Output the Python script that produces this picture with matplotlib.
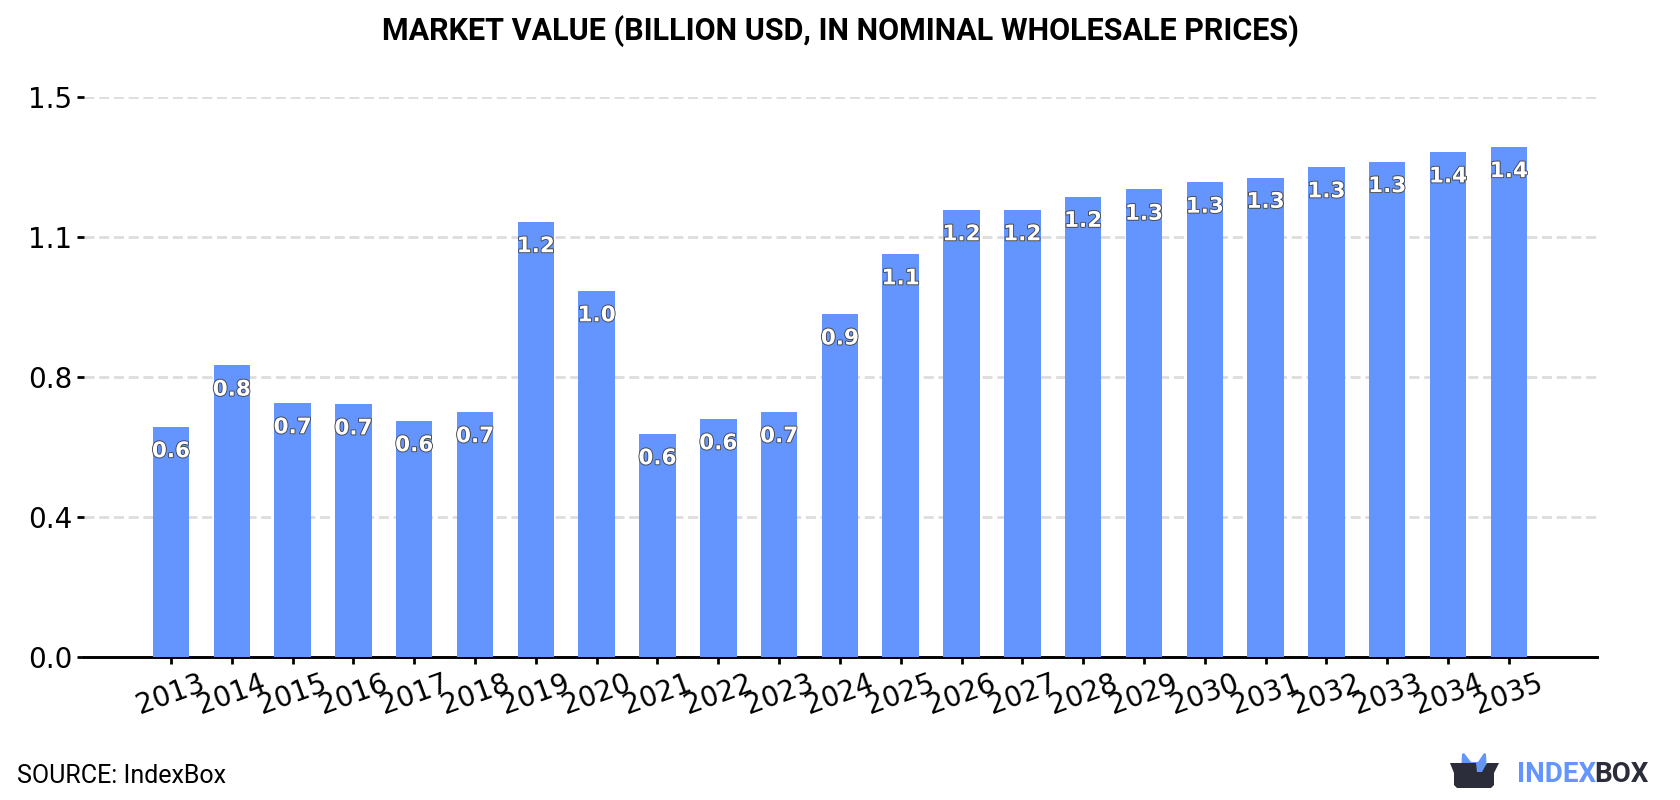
import matplotlib
matplotlib.use("Agg")
import matplotlib.pyplot as plt
import matplotlib.patheffects as pe
from matplotlib.patches import Polygon
from matplotlib.transforms import Affine2D

years = [2013, 2014, 2015, 2016, 2017, 2018, 2019, 2020, 2021, 2022, 2023, 2024,
         2025, 2026, 2027, 2028, 2029, 2030, 2031, 2032, 2033, 2034, 2035]
values = [0.615, 0.78, 0.679, 0.676, 0.631, 0.655, 1.164, 0.979, 0.596, 0.636, 0.655, 0.917,
          1.078, 1.196, 1.196, 1.232, 1.251, 1.27, 1.283, 1.311, 1.325, 1.351, 1.365]
y_ticks = [0.0, 0.375, 0.75, 1.125, 1.5]
y_tick_labels = ["0.0", "0.4", "0.8", "1.1", "1.5"]

W, H = 1680, 800
BLUE = "#6495ff"
DARK = "#2b2d3a"

fig = plt.figure(figsize=(W / 100, H / 100), dpi=100, facecolor="white")
ax = fig.add_axes([84 / W, 1 - 656.5 / H, (1597 - 84) / W, (656.5 - 96.5) / H])

positions = list(range(len(years)))
ax.bar(positions, values, width=0.6, color=BLUE, zorder=3)

ax.set_xlim(-1.43, 23.45)
ax.set_ylim(0, 1.5)
ax.set_yticks(y_ticks, y_tick_labels)
ax.set_xticks(positions, [str(y) for y in years], rotation=20, ha="center")
ax.tick_params(axis="both", labelsize=20, width=2, length=4.7, color="black")
ax.tick_params(axis="x", length=5, pad=4)

ax.grid(axis="y", color="#dddddd", linewidth=2, linestyle=(0, (3.6, 1.7)), zorder=0)
ax.set_axisbelow(True)
for side in ("top", "right", "left"):
    ax.spines[side].set_visible(False)
ax.spines["bottom"].set_linewidth(2.1)

# Value labels sit just inside the top of each bar
for x, v in zip(positions, values):
    ax.annotate(f"{v:.1f}", (x, v), xytext=(0, -17.5), textcoords="offset points",
                ha="center", va="center", fontsize=15.5, fontweight="bold",
                color="white", zorder=4, family="DejaVu Sans",
                path_effects=[pe.withStroke(linewidth=1.3, foreground="#444444")])

fig.text(840 / W, 1 - 31 / H, "MARKET VALUE (BILLION USD, IN NOMINAL WHOLESALE PRICES)",
         ha="center", va="center", fontsize=22, fontweight="bold", family="Roboto", color="black")
fig.text(17 / W, 1 - 776 / H, "SOURCE: IndexBox", ha="left", va="center",
         fontsize=18, family="Roboto", color="black")

# Brand mark, laid out in pixel coordinates from the top-left corner
px = Affine2D().scale(1, -1).translate(0, H)
ear = Polygon([(1461, 773), (1462, 754), (1464, 753), (1471, 762), (1478, 762),
               (1484, 753), (1486, 754), (1487, 773)], closed=True, fc=BLUE, ec="none",
              transform=px)
box = Polygon([(1450, 763), (1476, 763), (1476, 763), (1477, 772), (1482, 772), (1487, 763), (1499, 763),
               (1494, 773), (1494, 785), (1491, 788), (1457, 788), (1454, 785), (1454, 773)],
              closed=True, fc=DARK, ec="none", transform=px)
fig.add_artist(ear)
fig.add_artist(box)
brand_y = 1 - 775 / H
fig.text(1517 / W, brand_y, "INDEX", ha="left", va="center", fontsize=20, fontweight="bold",
         family="Roboto", color=BLUE)
fig.text(1649 / W, brand_y, "BOX", ha="right", va="center", fontsize=20, fontweight="bold",
         family="Roboto", color=DARK)

fig.savefig("out.png", dpi=100)
